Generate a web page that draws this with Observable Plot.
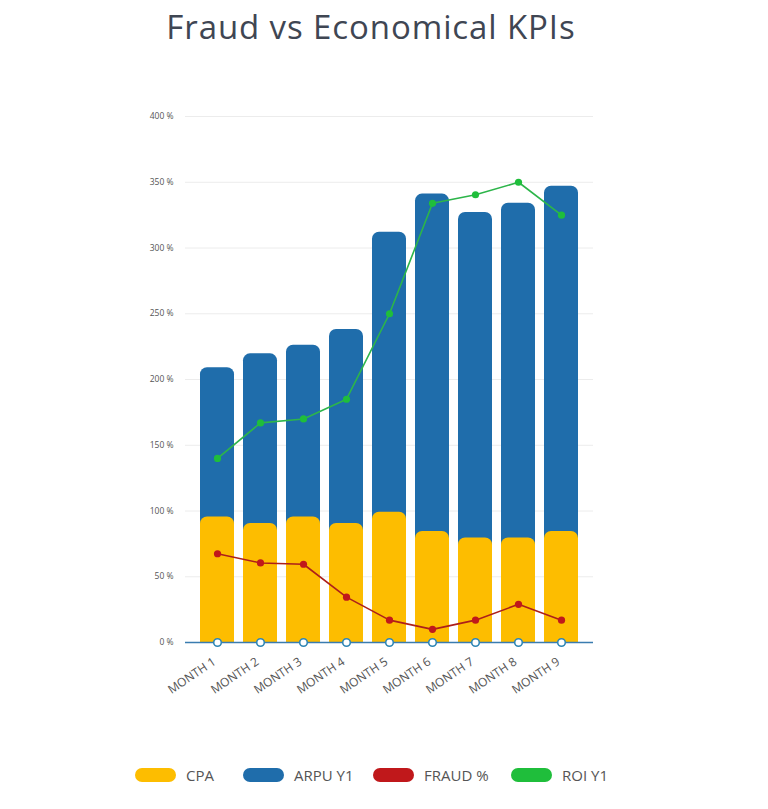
<!DOCTYPE html>
<html>
<head>
<meta charset="utf-8">
<script src="https://cdn.jsdelivr.net/npm/d3@7"></script>
<script src="https://cdn.jsdelivr.net/npm/@observablehq/plot@0.6"></script>
<style>
  html, body { margin: 0; padding: 0; background: #fff; }
  body { width: 768px; height: 809px; position: relative; overflow: hidden; font-family: "Open Sans", sans-serif; }
  #title { position: absolute; left: 0; top: 4px; width: 742px; text-align: center; font-size: 33px; letter-spacing: 0.9px; color: #3f4653; font-family: "Open Sans", sans-serif; }
  #chart { position: absolute; left: 0; top: 60px; }
  #legend { position: absolute; left: 0; top: 764px; width: 768px; height: 22px; }
  .item { position: absolute; top: 0; display: flex; align-items: center; height: 22px; }
  .sw { width: 41px; height: 14px; border-radius: 7px; margin-right: 10px; }
  .lab { font-size: 15px; color: #555; font-family: "Open Sans", sans-serif; }
</style>
</head>
<body>
<div id="title">Fraud vs Economical KPIs</div>
<div id="chart"></div>
<div id="legend"></div>
<script>
const months = ["MONTH 1","MONTH 2","MONTH 3","MONTH 4","MONTH 5","MONTH 6","MONTH 7","MONTH 8","MONTH 9"];
const cpa   = [95.5, 90.5, 95.5, 90.5, 99, 84.5, 79.5, 79.5, 84.5];
const arpu  = [209, 219.5, 226, 238, 312, 341, 327, 334, 347];
const fraud = [67.5, 60.5, 59.5, 34.5, 17, 10, 17, 29, 17];
const roi   = [140, 167, 170, 185, 250, 334, 340.5, 350, 325];
const yTicks = [0, 50, 100, 150, 200, 250, 300, 350, 400];

const seriesNames = ["CPA", "ARPU Y1", "FRAUD %", "ROI Y1"];
const seriesColors = ["#fdbd00", "#1f6dab", "#c0181b", "#1fbe3b"];

const rows = months.map((m, i) => ({month: m, cpa: cpa[i], arpu: arpu[i], fraud: fraud[i], roi: roi[i], zero: 0}));

const chart = Plot.plot({
  width: 768,
  height: 700,
  marginTop: 56,
  marginBottom: 118,
  marginLeft: 185,
  marginRight: 175,
  style: {fontFamily: "Open Sans, sans-serif", background: "#fff"},
  x: {domain: months, paddingInner: 0.2, paddingOuter: 0.29, label: null},
  y: {domain: [0, 400], label: null},
  marks: [
    Plot.gridY(yTicks, {stroke: "#ececec", strokeOpacity: 1}),
    Plot.barY(rows, {x: "month", y: "arpu", fill: seriesColors[1], rx: 7, insetBottom: -12, clip: true}),
    Plot.barY(rows, {x: "month", y: "cpa", fill: seriesColors[0], rx: 7, insetBottom: -12, clip: true}),
    Plot.ruleY([0], {stroke: "#3a7cb0", strokeWidth: 1.6}),
    Plot.lineY(rows, {x: "month", y: "fraud", stroke: "#ad1f1a", strokeWidth: 1.6}),
    Plot.dot(rows, {x: "month", y: "fraud", fill: "#c0181b", r: 3.6}),
    Plot.lineY(rows, {x: "month", y: "roi", stroke: "#2db54a", strokeWidth: 1.6}),
    Plot.dot(rows, {x: "month", y: "roi", fill: "#1fbe3b", r: 3.6}),
    Plot.dot(rows, {x: "month", y: "zero", fill: "#fff", stroke: "#2f86b4", strokeWidth: 1.6, r: 3.8}),
    Plot.axisY(yTicks, {tickSize: 0, tickPadding: 12, fontSize: 8.5, fill: "#555", tickFormat: d => d + " %"}),
    Plot.axisX({tickSize: 0, tickPadding: 18, tickRotate: -34, fontSize: 12, fill: "#555", dx: -3})
  ]
});
document.getElementById("chart").appendChild(chart);

const legendLefts = [135, 243, 373, 511];
const legend = document.getElementById("legend");
seriesNames.forEach((name, i) => {
  const it = document.createElement("div");
  it.className = "item";
  it.style.left = legendLefts[i] + "px";
  it.innerHTML = `<div class="sw" style="background:${seriesColors[i]}"></div><span class="lab">${name}</span>`;
  legend.appendChild(it);
});
</script>
</body>
</html>
